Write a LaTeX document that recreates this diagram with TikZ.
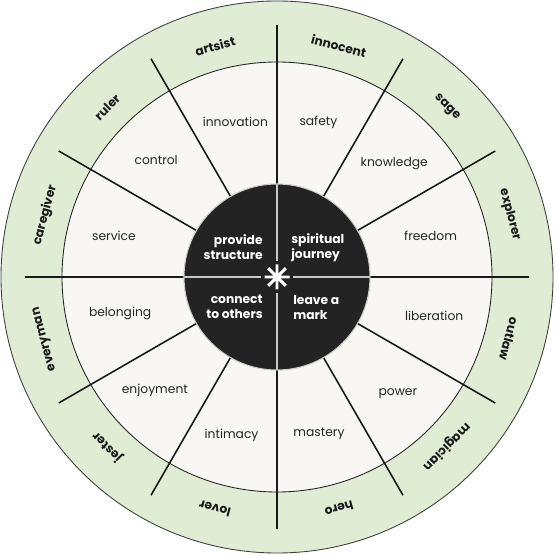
\documentclass[tikz,border=0pt]{standalone}
\usepackage{fontspec}
\setmainfont{Poppins}
\definecolor{ringgreen}{HTML}{E1ECD5}
\definecolor{wheelbeige}{HTML}{F8F7F3}
\definecolor{coredark}{HTML}{222322}
\definecolor{coreline}{HTML}{C9C9C5}
\begin{document}
\begin{tikzpicture}[every node/.style={font=\fontsize{7}{8.5}\selectfont,inner sep=0pt},
  archetype/.style={font=\fontsize{7}{8.5}\selectfont\bfseries,text=black!90},
  desire/.style={text=black!85},
  motive/.style={font=\fontsize{7}{8.5}\selectfont\bfseries,text=white}]
  \useasboundingbox (-5.54,-5.58) rectangle (5.56,5.54);
  \fill[ringgreen,draw=black!75,line width=0.5pt] (0,0) circle (5.52);
  \fill[wheelbeige,draw=black!85,line width=0.5pt] (0,0) circle (4.3);
  \draw[line width=0.9pt,black!90] (0:1.86) -- (0:5.04) (30:1.86) -- (30:5.04) (60:1.86) -- (60:5.04)
    (90:1.86) -- (90:5.04) (120:1.86) -- (120:5.04) (150:1.86) -- (150:5.04)
    (180:1.86) -- (180:5.04) (210:1.86) -- (210:5.04) (240:1.86) -- (240:5.04)
    (270:1.86) -- (270:5.04) (300:1.86) -- (300:5.04) (330:1.86) -- (330:5.04);
  \fill[coredark,draw=coreline,line width=0.6pt] (0,0) circle (1.86);
  \draw[coreline,line width=0.6pt] (0:0.32) -- (0:1.86) (90:0.32) -- (90:1.86) (180:0.32) -- (180:1.86) (270:0.32) -- (270:1.86);
  \draw[white,line width=1.7pt] (0:0.25) -- (180:0.25) (45:0.25) -- (225:0.25) (90:0.25) -- (270:0.25) (135:0.25) -- (315:0.25);
  \node[motive,anchor=east,align=right] (structure) at (-0.28,0.59) {provide\\structure};
  \node[motive,anchor=west,align=left] (journey) at (0.28,0.59) {spiritual\\journey};
  \node[motive,anchor=east,align=right] (others) at (-0.28,-0.59) {connect\\to others};
  \node[motive,anchor=west,align=left] (mark) at (0.32,-0.61) {leave a\\mark};
  \node[desire] (innovation) at (105:3.22) {innovation};
  \node[desire] (control) at (136:3.36) {control};
  \node[desire] (service) at (166:3.36) {service};
  \node[desire] (safety) at (75:3.2) {safety};
  \node[desire] (knowledge) at (44:3.26) {knowledge};
  \node[desire] (freedom) at (15:3.18) {freedom};
  \node[desire] (liberation) at (-14:3.24) {liberation};
  \node[desire] (power) at (-44:3.36) {power};
  \node[desire] (mastery) at (-75:3.24) {mastery};
  \node[desire] (intimacy) at (-106:3.3) {intimacy};
  \node[desire] (enjoyment) at (-137:3.34) {enjoyment};
  \node[desire] (belonging) at (-167:3.22) {belonging};
  \node[archetype,rotate=-15] (innocent) at (75:4.78) {innocent};
  \node[archetype,rotate=-45] (sage) at (45:4.8) {sage};
  \node[archetype,rotate=-75] (explorer) at (15:4.82) {explorer};
  \node[archetype,rotate=-105] (outlaw) at (-15:4.8) {outlaw};
  \node[archetype,rotate=-135] (magician) at (-45:4.8) {magician};
  \node[archetype,rotate=-165] (hero) at (-75:4.8) {hero};
  \node[archetype,rotate=165] (lover) at (-105:4.8) {lover};
  \node[archetype,rotate=135] (jester) at (-135:4.8) {jester};
  \node[archetype,rotate=105] (everyman) at (-165:4.8) {everyman};
  \node[archetype,rotate=75] (caregiver) at (165:4.8) {caregiver};
  \node[archetype,rotate=45] (ruler) at (135:4.8) {ruler};
  \node[archetype,rotate=15] (artsist) at (105:4.78) {artsist};
\end{tikzpicture}
\end{document}
